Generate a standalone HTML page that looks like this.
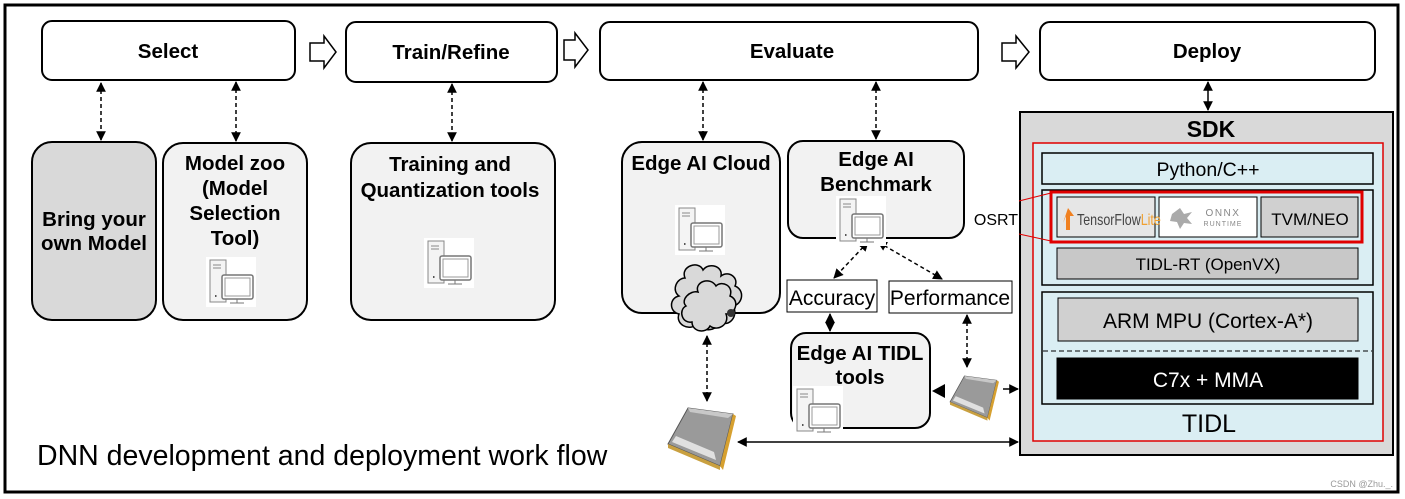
<!DOCTYPE html>
<html><head><meta charset="utf-8"><style>
html,body{margin:0;padding:0;background:#fff}
svg{display:block}
text{font-family:"Liberation Sans",Arial,sans-serif}
.b{font-weight:bold}
</style></head><body>
<svg width="1405" height="499" viewBox="0 0 1405 499" xmlns="http://www.w3.org/2000/svg">
<defs>
<marker id="ah" viewBox="0 0 10 10" refX="9" refY="5" markerWidth="6.5" markerHeight="6.5" orient="auto-start-reverse"><path d="M0,0L10,5L0,10z" fill="#000"/></marker>
<g id="pc">
<rect x="0" y="0" width="50" height="50" fill="#fff"/>
<rect x="4" y="3" width="16" height="42" fill="#f4f4f4" stroke="#888" stroke-width="1"/>
<line x1="7" y1="8" x2="15" y2="8" stroke="#888"/><line x1="7" y1="11" x2="15" y2="11" stroke="#888"/>
<rect x="9" y="38" width="1.5" height="2" fill="#555"/>
<rect x="16" y="18" width="31" height="24" rx="2" fill="#fff" stroke="#777" stroke-width="1.5"/>
<rect x="19" y="21" width="25" height="18" fill="#fff" stroke="#999"/>
<line x1="31" y1="42" x2="31" y2="46" stroke="#777"/><line x1="24" y1="46" x2="38" y2="46" stroke="#777"/>
</g>
<g id="chip">
<polygon points="20,0 65,6 52,58 0,36" fill="#9a9a9a" stroke="#555" stroke-width="1"/>
<polygon points="20,0 65,6 60,10 22,4" fill="#c8c8c8"/>
<polygon points="0,36 52,58 52,62 0,40" fill="#c9a040"/>
<polygon points="65,6 68,8 55,62 52,58" fill="#d6a030"/>
<polygon points="8,28 46,44 48,52 4,34" fill="#e0e0e0"/>
</g>
</defs>
<rect x="5" y="5" width="1393" height="487" fill="#fff" stroke="#000" stroke-width="3"/>
<g stroke="#000" stroke-width="2" fill="#fff">
<rect x="42" y="21" width="253" height="59" rx="10"/>
<rect x="346" y="22" width="211" height="60" rx="10"/>
<rect x="600" y="22" width="378" height="58" rx="10"/>
<rect x="1040" y="22" width="335" height="58" rx="10"/>
</g>
<g font-size="20.5" class="b" text-anchor="middle">
<text x="168" y="58" class="b">Select</text>
<text x="451" y="59" class="b">Train/Refine</text>
<text x="792" y="58" class="b">Evaluate</text>
<text x="1207" y="58" class="b">Deploy</text>
</g>
<g fill="#fff" stroke="#000" stroke-width="1.5">
<polygon points="310,43 324,43 324,36 336,52 324,68 324,61 310,61"/>
<polygon points="564,40 575,40 575,33 588,50 575,67 575,60 564,60"/>
<polygon points="1002,43 1016,43 1016,36 1029,52 1016,68 1016,61 1002,61"/>
</g>
<g stroke="#000" stroke-width="1.5" stroke-dasharray="4,3" marker-start="url(#ah)" marker-end="url(#ah)">
<line x1="101" y1="83" x2="101" y2="140"/>
<line x1="236" y1="82" x2="236" y2="141"/>
<line x1="452" y1="84" x2="452" y2="141"/>
<line x1="703" y1="82" x2="703" y2="140"/>
<line x1="876" y1="82" x2="876" y2="139"/>
<line x1="868" y1="242" x2="834" y2="278"/>
<line x1="878" y1="242" x2="942" y2="279"/>
<line x1="830" y1="314" x2="830" y2="331"/>
<line x1="967" y1="315" x2="967" y2="367"/>
<line x1="707" y1="336" x2="707" y2="401"/>
</g>
<line x1="1208" y1="82" x2="1208" y2="110" stroke="#000" stroke-width="1.5" marker-start="url(#ah)" marker-end="url(#ah)"/>
<g stroke="#000" stroke-width="2">
<rect x="32" y="142" width="124" height="178" rx="20" fill="#d9d9d9"/>
<rect x="163" y="143" width="144" height="177" rx="20" fill="#f2f2f2"/>
<rect x="351" y="143" width="204" height="177" rx="20" fill="#f2f2f2"/>
<rect x="622" y="142" width="158" height="171" rx="20" fill="#f2f2f2"/>
<rect x="788" y="141" width="176" height="97" rx="15" fill="#f2f2f2"/>
<rect x="791" y="333" width="139" height="95" rx="15" fill="#f2f2f2"/>
</g>
<g stroke="#000" stroke-width="1" fill="#fff">
<rect x="787" y="280" width="90" height="32"/>
<rect x="889" y="281" width="123" height="32"/>
</g>
<g font-size="20.5" text-anchor="middle" class="b">
<text x="94" y="226" class="b">Bring your</text>
<text x="94" y="250" class="b">own Model</text>
<text x="235" y="170" class="b">Model zoo</text>
<text x="235" y="195" class="b">(Model</text>
<text x="235" y="220" class="b">Selection</text>
<text x="235" y="245" class="b">Tool)</text>
<text x="450" y="171" class="b">Training and</text>
<text x="450" y="197" class="b">Quantization tools</text>
<text x="701" y="170" class="b">Edge AI Cloud</text>
<text x="876" y="166" class="b">Edge AI</text>
<text x="876" y="191" class="b">Benchmark</text>
<text x="860" y="360" class="b">Edge AI TIDL</text>
<text x="860" y="384" class="b">tools</text>
</g>
<g font-size="21" text-anchor="middle">
<text x="832" y="305">Accuracy</text>
<text x="950" y="305">Performance</text>
</g>
<use href="#pc" x="206" y="257"/>
<use href="#pc" x="424" y="238"/>
<use href="#pc" x="675" y="205"/>
<use href="#pc" x="836" y="196"/>
<use href="#pc" x="793" y="386"/>
<g fill="#d9d9d9" stroke="#000" stroke-width="1.5">
<path d="M685,278 c-5,-12 14,-18 18,-8 c6,-8 20,-4 18,6 c8,-6 18,2 14,10 c10,4 8,18 -2,20 c6,10 -4,22 -14,16 c-2,10 -18,10 -22,2 c-8,8 -22,0 -18,-10 c-10,-2 -10,-16 0,-18 c-8,-6 -2,-18 6,-18z"/>
<path d="M698,292 c-4,-10 12,-16 18,-6 c6,-6 18,0 14,10 c10,4 6,18 -4,18 c4,10 -8,18 -16,12 c-4,8 -18,6 -18,-4 c-10,2 -14,-12 -6,-16 c-6,-6 4,-16 12,-14z"/>
</g>
<circle cx="731" cy="313" r="4" fill="#333"/>
<use href="#chip" x="668" y="408"/>
<g transform="translate(950,376) scale(0.72)"><use href="#chip"/></g>
<line x1="738" y1="442" x2="1018" y2="442" stroke="#000" stroke-width="1.5" marker-start="url(#ah)" marker-end="url(#ah)"/>
<line x1="1003" y1="389" x2="1018" y2="389" stroke="#000" stroke-width="1.5" marker-end="url(#ah)"/>
<polygon points="932,391 945,384 945,398" fill="#000"/>
<rect x="1020" y="112" width="373" height="343" fill="#d9d9d9" stroke="#000" stroke-width="2"/>
<text x="1211" y="137" font-size="23" text-anchor="middle" class="b">SDK</text>
<rect x="1033" y="143" width="350" height="298" fill="#daeef3" stroke="#e00000" stroke-width="1.5"/>
<g stroke="#000" stroke-width="1.5" fill="#daeef3">
<rect x="1042" y="153" width="331" height="31"/>
<rect x="1042" y="190" width="331" height="95"/>
<rect x="1042" y="292" width="331" height="112"/>
</g>
<g stroke="#000" stroke-width="1">
<rect x="1057" y="197" width="98" height="40" fill="#e6e6e6"/>
<rect x="1159" y="197" width="98" height="40" fill="#fff"/>
<rect x="1261" y="197" width="97" height="40" fill="#d0d0d0"/>
<rect x="1057" y="248" width="301" height="31" fill="#c8c8c8"/>
<rect x="1058" y="298" width="300" height="43" fill="#d0d0d0"/>
<rect x="1057" y="358" width="301" height="41" fill="#000"/>
</g>
<rect x="1051" y="192" width="311" height="50" fill="none" stroke="#e00000" stroke-width="3"/>
<line x1="1043" y1="351" x2="1372" y2="351" stroke="#000" stroke-width="1" stroke-dasharray="5,3"/>
<line x1="1019" y1="201" x2="1051" y2="193" stroke="#e00000" stroke-width="1"/>
<line x1="1019" y1="234" x2="1051" y2="241" stroke="#e00000" stroke-width="1"/>
<g font-size="17" text-anchor="middle">
<text x="1208" y="176" font-size="19.5">Python/C++</text>
<text x="1310" y="225">TVM/NEO</text>
<text x="1208" y="270">TIDL-RT (OpenVX)</text>
<text x="1208" y="328" font-size="21">ARM MPU (Cortex-A*)</text>
<text x="1208" y="387" font-size="21" fill="#fff">C7x + MMA</text>
<text x="1209" y="432" font-size="25">TIDL</text>
<text x="996" y="225" font-size="16">OSRT</text>
</g>
<path d="M1063,223 l5,-15 l6,8 h-4 v14 h-4 v-14z" fill="#f08020"/>
<text x="1077" y="225" font-size="16" fill="#444" transform="translate(1077,0) scale(0.78,1) translate(-1077,0)">TensorFlow<tspan fill="#f0a030">Lite</tspan></text>
<path d="M1172,214 l8,-6 l4,6 l8,-2 l-5,6 l5,6 l-8,-1 l-4,6 l-3,-7 l-7,-1z" fill="#aaa"/>
<text x="1223" y="216" font-size="10" fill="#888" text-anchor="middle" letter-spacing="1.5">ONNX</text>
<text x="1223" y="226" font-size="7" fill="#888" text-anchor="middle" letter-spacing="1">RUNTIME</text>
<text x="37" y="465" font-size="28.5">DNN development and deployment work flow</text>
<text x="1393" y="487" font-size="9" fill="#999" text-anchor="end">CSDN @Zhu._.</text>
</svg>
</body></html>
